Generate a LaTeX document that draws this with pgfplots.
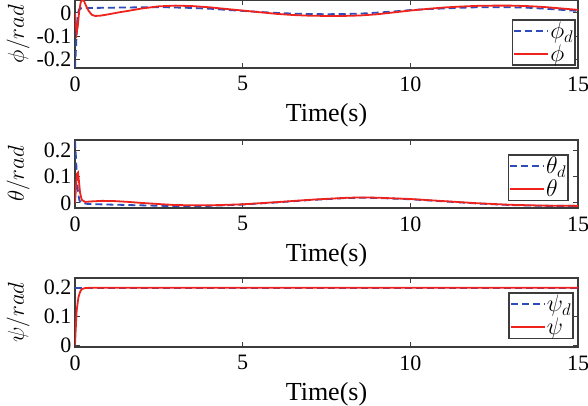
\RequirePackage{fix-cm}
\documentclass[border=0pt]{standalone}
\usepackage{pgfplots}
\pgfplotsset{compat=1.18}
\usepackage{fontspec}
\setmainfont{Liberation Serif}
\definecolor{myblue}{RGB}{45,75,185}
\definecolor{myred}{RGB}{238,35,30}
\definecolor{axgray}{RGB}{60,60,60}
\pgfplotsset{
 panel/.style={
  scale only axis, width=503pt, height=68pt,
  xmin=0, xmax=15, xtick={0,5,10,15},
  tick align=inside, major tick length=5pt,
  axis line style={axgray, line width=1.2pt},
  every tick/.style={axgray, line width=1pt},
  ticklabel style={font=\fontsize{22}{24}\selectfont},
  xticklabel style={yshift=-5pt},
  /pgf/number format/assume math mode=true,
  xlabel={Time(s)},
  xlabel style={font=\fontsize{26}{28}\selectfont, at={(axis description cs:0.5,0)}, anchor=center, yshift=-47pt},
  ylabel style={font=\fontsize{23}{26}\selectfont, at={(axis description cs:-0.113,0.5)}, anchor=center},
  legend style={draw=axgray, line width=1.5pt, font=\fontsize{24}{26}\selectfont, inner sep=1pt, row sep=3pt,
     nodes={inner sep=1pt}, cells={anchor=west}},
  legend image code/.code={\draw[#1, line width=1.8pt] (0pt,0pt) -- (34pt,0pt);},
 },
 dline/.style={myblue, line width=1.8pt, dash pattern=on 7pt off 4pt},
 rline/.style={myred, line width=1.8pt},
}
\begin{document}
\begin{tikzpicture}[x=1pt,y=1pt]
\useasboundingbox (0,0) rectangle (588,405);
% ---------------- phi ----------------
\begin{axis}[panel, at={(75pt,337pt)}, anchor=south west,
  ymin=-0.235, ymax=0.055, ytick={-0.2,-0.1,0},
  ylabel={$\phi/rad$},
  legend style={at={(0.996,0.03)}, anchor=south east}]
\addplot[dline] coordinates {
(0,-0.235)(0.03,-0.15)(0.06,-0.05)(0.09,0.0)(0.12,0.015)(0.2,0.02)(0.5,0.021)(1.0,0.022)
(2.0,0.024)(2.7,0.024)(3.5,0.021)(4.0,0.018)(4.5,0.013)(5.0,0.0085)(5.5,0.004)(6.0,0.0)
(6.5,-0.003)(7.0,-0.005)(7.5,-0.0055)(8.0,-0.005)(8.5,-0.003)(9.0,0.001)(9.5,0.006)
(10.0,0.012)(10.5,0.016)(11.0,0.019)(11.5,0.022)(12.0,0.024)(12.5,0.024)(13.0,0.024)
(13.5,0.022)(14.0,0.018)(14.5,0.013)(15.0,0.0085)};
\addlegendentry{$\phi_d$}
\addplot[rline] coordinates {
(0,0.0)(0.02,-0.04)(0.05,-0.085)(0.08,-0.06)(0.12,0.0)(0.17,0.045)(0.22,0.056)(0.27,0.05)
(0.33,0.03)(0.4,0.01)(0.5,-0.008)(0.6,-0.013)(0.75,-0.012)(1.0,-0.006)(1.3,0.002)(1.6,0.009)
(2.0,0.019)(2.5,0.028)(3.0,0.031)(3.5,0.029)(4.0,0.024)(4.5,0.017)(5.0,0.010)(5.5,0.003)
(6.0,-0.004)(6.5,-0.009)(7.0,-0.012)(7.5,-0.013)(8.0,-0.013)(8.5,-0.011)(9.0,-0.006)
(9.5,0.002)(10.0,0.010)(10.5,0.017)(11.0,0.023)(11.5,0.027)(12.0,0.030)(12.5,0.031)
(13.0,0.031)(13.5,0.029)(14.0,0.025)(14.5,0.019)(15.0,0.013)};
\addlegendentry{$\phi$}
\end{axis}
% ---------------- theta ----------------
\begin{axis}[panel, at={(75pt,197pt)}, anchor=south west,
  ymin=-0.019, ymax=0.238, ytick={0,0.1,0.2},
  ylabel={$\theta/rad$},
  legend style={at={(0.982,0.10)}, anchor=south east}]
\addplot[dline] coordinates {
(0,0.235)(0.03,0.17)(0.06,0.09)(0.09,0.04)(0.13,0.01)(0.2,0.0)(0.4,-0.004)(1.0,-0.006)
(2.0,-0.009)(3.0,-0.012)(4.0,-0.011)(5.0,-0.006)(6.0,0.002)(7.0,0.011)(8.0,0.018)
(8.5,0.02)(9.0,0.019)(10.0,0.014)(11.0,0.006)(12.0,-0.002)(13.0,-0.008)(14.0,-0.011)(15.0,-0.011)};
\addlegendentry{$\theta_d$}
\addplot[rline] coordinates {
(0,0.0)(0.03,0.06)(0.06,0.11)(0.09,0.115)(0.12,0.08)(0.15,0.04)(0.2,0.012)(0.3,0.004)
(0.5,0.006)(0.8,0.008)(1.2,0.007)(1.6,0.004)(2.0,0.0)(3.0,-0.008)(4.0,-0.009)(5.0,-0.005)
(6.0,0.003)(7.0,0.012)(8.0,0.019)(8.5,0.021)(9.0,0.02)(10.0,0.015)(11.0,0.007)(12.0,-0.001)
(13.0,-0.007)(14.0,-0.01)(15.0,-0.011)};
\addlegendentry{$\theta$}
\end{axis}
% ---------------- psi ----------------
\begin{axis}[panel, at={(75pt,58pt)}, anchor=south west, height=69pt,
  ymin=-0.007, ymax=0.234, ytick={0,0.1,0.2},
  ylabel={$\psi/rad$},
  legend style={at={(0.992,0.116)}, anchor=south east}]
\addplot[dline] coordinates {(0,0.2)(15,0.2)};
\addlegendentry{$\psi_d$}
\addplot[rline] coordinates {
(0,0.0)(0.02,0.05)(0.05,0.12)(0.1,0.165)(0.15,0.185)(0.2,0.195)(0.3,0.199)(0.5,0.2)(15,0.2)};
\addlegendentry{$\psi$}
\end{axis}
\end{tikzpicture}
\end{document}
